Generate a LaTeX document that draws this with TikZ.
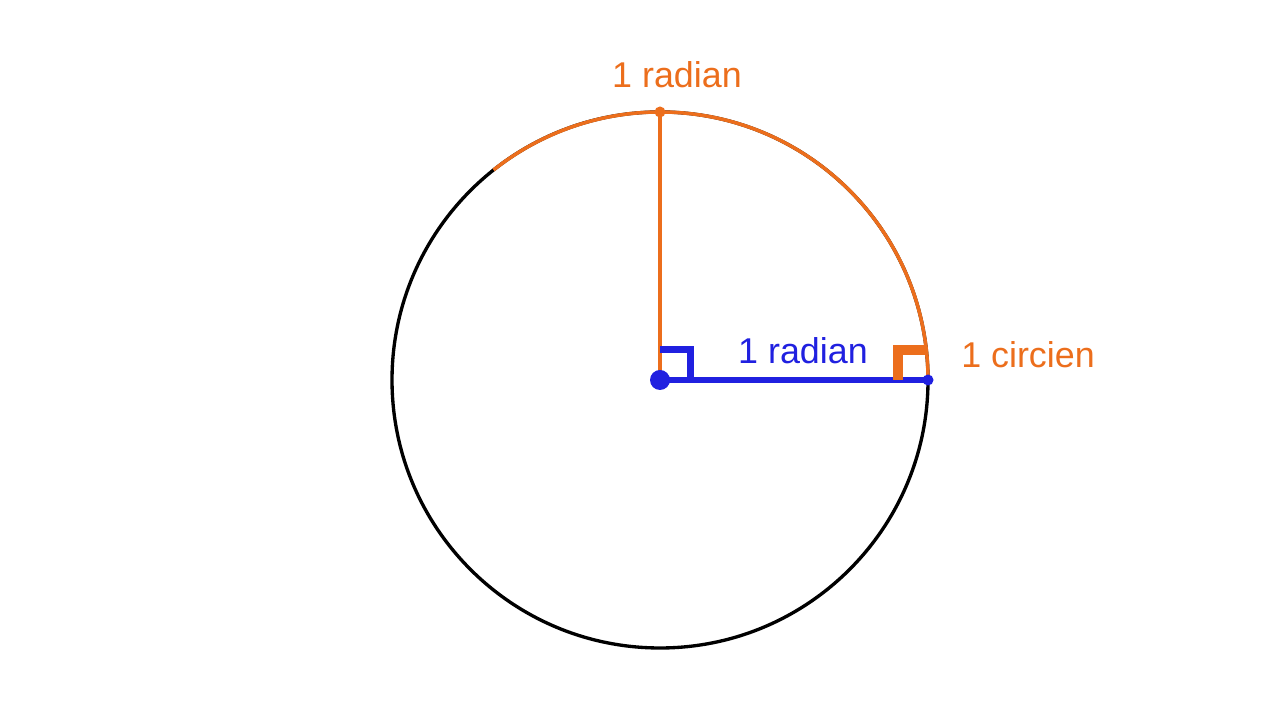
\documentclass[tikz,border=0pt]{standalone}
\usepackage{fontspec}
\setmainfont{Liberation Sans}
\definecolor{arcorange}{RGB}{236,110,28}
\definecolor{radblue}{RGB}{32,32,224}
\tikzset{
  label/.style={font=\fontsize{10.2}{12}\selectfont, inner sep=0pt},
  rim/.style={line width=0.95pt, black},
}
\begin{document}
\begin{tikzpicture}
    \useasboundingbox (0,0) rectangle (12.8,7.2);
    \coordinate (O) at (6.6,3.4);
    \coordinate (T) at (6.6,6.08);
    \coordinate (R) at (9.28,3.4);
    \draw[rim] (O) circle (2.68);
    \draw[arcorange, line width=1pt] (R) arc (0:128.4:2.68);
    \draw[arcorange, line width=0.95pt] (O) -- (T);
    \draw[radblue, line width=1.7pt] (O) -- (R);
    \draw[radblue, line width=2pt] (6.6,3.7) -- (6.9,3.7) -- (6.9,3.4);
    \draw[arcorange, line width=2.6pt] (8.98,3.4) -- (8.98,3.7) -- (9.26,3.7);
    \fill[radblue] (O) circle (0.1);
    \fill[radblue] (R) circle (0.055);
    \fill[arcorange] (T) circle (0.055);
    \node[label, text=arcorange] (toplab) at (6.77,6.45) {1 radian};
    \node[label, text=radblue] (midlab) at (8.03,3.69) {1 radian};
    \node[label, text=arcorange] (rightlab) at (10.28,3.65) {1 circien};
\end{tikzpicture}
\end{document}
